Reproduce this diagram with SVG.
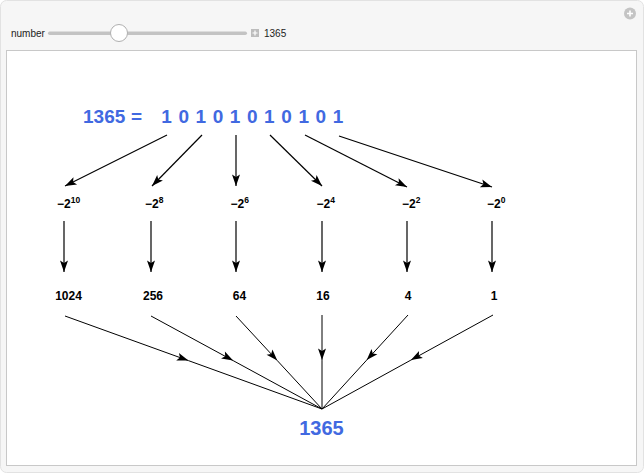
<svg xmlns="http://www.w3.org/2000/svg" width="644" height="473" viewBox="0 0 644 473">
<style>
.ui{font-family:"Liberation Sans",Arial,sans-serif;font-size:10px;fill:#222}
.lbl{font-family:"Liberation Sans",Arial,sans-serif;font-weight:bold;font-size:12px;fill:#000}
.sup{font-size:8.5px}
.blue{font-family:"Liberation Sans",Arial,sans-serif;font-weight:bold;fill:#4169e1}
.arr{stroke:#000;stroke-width:1.2;fill:none;marker-end:url(#ah)}
.mid{stroke:#000;stroke-width:1;fill:none;marker-mid:url(#ah)}
</style>
<defs>
<marker id="ah" markerUnits="userSpaceOnUse" viewBox="-12 -5 13 10" refX="0" refY="0" markerWidth="13" markerHeight="10" orient="auto">
<path d="M0,0 L-11.5,-4 L-9,0 L-11.5,4 Z" fill="#000"/>
</marker>
</defs>
<g id="panel">
<rect x="0.5" y="0.5" width="643" height="472" rx="6" fill="#f6f6f6" stroke="#e2e2e2"/>
<rect x="6.5" y="50.5" width="630" height="415" fill="#fff" stroke="#c8c8c8"/>
<circle cx="630" cy="13.5" r="6" fill="#c4c4c4"/>
<path d="M627,13.5 H633 M630,10.5 V16.5" stroke="#fff" stroke-width="1.6"/>
</g>
<g id="slider">
<text class="ui" x="11" y="37">number</text>
<rect x="48" y="31.5" width="199" height="3.5" rx="1.75" fill="#c3c3c3"/>
<circle cx="119" cy="33" r="8.5" fill="#fff" stroke="#b0b0b0"/>
<rect x="251" y="29" width="8" height="8" fill="#bdbdbd"/>
<path d="M252.5,33 H257.5 M255,30.5 V35.5" stroke="#fff" stroke-width="1.2"/>
<text class="ui" x="264" y="37">1365</text>
</g>
<g id="binary">
<text class="blue" x="83" y="123" font-size="19">1365</text>
<text class="blue" x="131" y="123" font-size="19">=</text>
<g font-size="19" text-anchor="middle">
<text class="blue" x="166.5" y="123">1</text>
<text class="blue" x="183.7" y="123">0</text>
<text class="blue" x="200.8" y="123">1</text>
<text class="blue" x="218" y="123">0</text>
<text class="blue" x="235.1" y="123">1</text>
<text class="blue" x="252.3" y="123">0</text>
<text class="blue" x="269.4" y="123">1</text>
<text class="blue" x="286.6" y="123">0</text>
<text class="blue" x="303.7" y="123">1</text>
<text class="blue" x="320.9" y="123">0</text>
<text class="blue" x="338" y="123">1</text>
</g>
</g>
<g id="powers">
<text class="lbl" x="57" y="208">−2<tspan class="sup" dy="-5">10</tspan></text>
<text class="lbl" x="145" y="208">−2<tspan class="sup" dy="-5">8</tspan></text>
<text class="lbl" x="230.5" y="208">−2<tspan class="sup" dy="-5">6</tspan></text>
<text class="lbl" x="316.5" y="208">−2<tspan class="sup" dy="-5">4</tspan></text>
<text class="lbl" x="402" y="208">−2<tspan class="sup" dy="-5">2</tspan></text>
<text class="lbl" x="487" y="208">−2<tspan class="sup" dy="-5">0</tspan></text>
</g>
<g id="values" text-anchor="middle">
<text class="lbl" x="68.5" y="300">1024</text>
<text class="lbl" x="153" y="300">256</text>
<text class="lbl" x="239.5" y="300">64</text>
<text class="lbl" x="323" y="300">16</text>
<text class="lbl" x="408" y="300">4</text>
<text class="lbl" x="494" y="300">1</text>
</g>
<g id="sum">
<text class="blue" x="321.5" y="435" font-size="20" text-anchor="middle">1365</text>
</g>
<g id="connectors">
<path class="arr" d="M167,135 L65,186"/>
<path class="arr" d="M202,135 L152,186"/>
<path class="arr" d="M236,135 L236,186"/>
<path class="arr" d="M270,135 L322,186"/>
<path class="arr" d="M305,135 L407,187"/>
<path class="arr" d="M339,136 L492,187"/>
<path class="arr" d="M64,221 V272"/>
<path class="arr" d="M151,221 V272"/>
<path class="arr" d="M236,221 V272"/>
<path class="arr" d="M322,221 V272"/>
<path class="arr" d="M407,221 V272"/>
<path class="arr" d="M492,221 V272"/>
<path class="mid" d="M65,316 L188.4,360.6 L322,409"/>
<path class="mid" d="M151,316 L233.1,360.6 L322,409"/>
<path class="mid" d="M236,316 L277.3,360.6 L322,409"/>
<path class="mid" d="M322,315 L322,360.1 L322,409"/>
<path class="mid" d="M408,315 L366.7,360.1 L322,409"/>
<path class="mid" d="M493,315 L410.9,360.1 L322,409"/>
</g>
</svg>
